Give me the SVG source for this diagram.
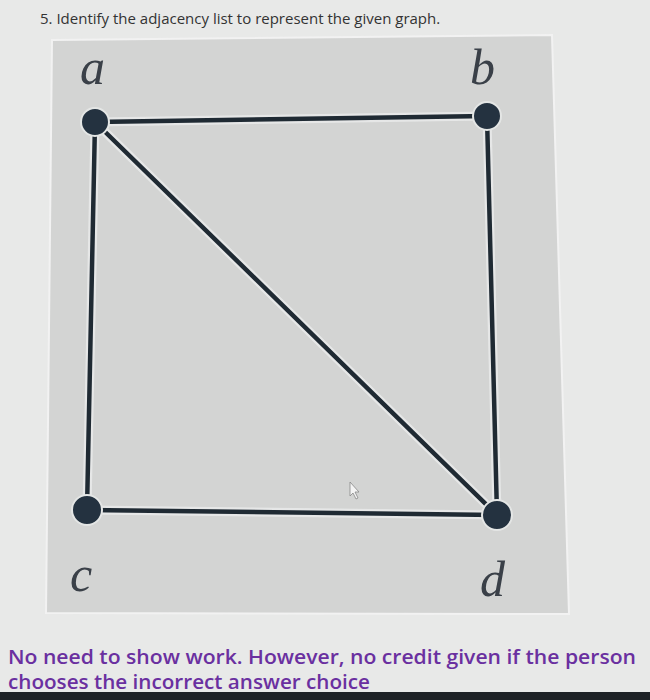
<svg xmlns="http://www.w3.org/2000/svg" width="650" height="700" viewBox="0 0 650 700">
<style>
.edge{stroke:#1f2a33;stroke-width:4.5;stroke-linecap:round;fill:none}
.halo{stroke:#eef0ef;stroke-width:9;stroke-linecap:round;fill:none;opacity:0.7}
.node{fill:#243240;stroke:#e4e6e5;stroke-width:2}
.lbl{font-family:"Liberation Serif",serif;font-style:italic;font-size:50px;fill:#3a4048}
.foot{font-family:"Open Sans","Liberation Sans",sans-serif;font-size:20px;font-weight:600;fill:#6a30a0}
</style>
<rect width="650" height="700" fill="#e8e9e8"/>
<polygon points="52,40 552,35 569,614 46,613" fill="#d3d4d3" stroke="#f2f2f2" stroke-width="2"/>
<text x="40" y="24" font-family="Open Sans, Liberation Sans, sans-serif" font-size="15" fill="#333">5. Identify the adjacency list to represent the given graph.</text>
<g id="connectors">
<line class="halo" x1="95" y1="122" x2="487" y2="116"/>
<line class="halo" x1="95" y1="122" x2="87" y2="510"/>
<line class="halo" x1="95" y1="122" x2="497" y2="515"/>
<line class="halo" x1="487" y1="116" x2="497" y2="515"/>
<line class="halo" x1="87" y1="510" x2="497" y2="515"/>
<line class="edge" x1="95" y1="122" x2="487" y2="116"/>
<line class="edge" x1="95" y1="122" x2="87" y2="510"/>
<line class="edge" x1="95" y1="122" x2="497" y2="515"/>
<line class="edge" x1="487" y1="116" x2="497" y2="515"/>
<line class="edge" x1="87" y1="510" x2="497" y2="515"/>
</g>
<g id="node-a"><circle class="node" cx="95" cy="122" r="14"/><text class="lbl" x="80" y="84">a</text></g>
<g id="node-b"><circle class="node" cx="487" cy="116" r="14"/><text class="lbl" x="470" y="84">b</text></g>
<g id="node-c"><circle class="node" cx="87" cy="510" r="15"/><text class="lbl" x="70" y="591">c</text></g>
<g id="node-d"><circle class="node" cx="497" cy="515" r="15"/><text class="lbl" x="480" y="596">d</text></g>
<polygon points="350,482 350,496 353,493 356,499 358,498 355,492 359,492" fill="#f4f4f4" stroke="#888" stroke-width="0.8"/>
<text class="foot" x="8" y="664" textLength="628" lengthAdjust="spacingAndGlyphs">No need to show work. However, no credit given if the person</text>
<text class="foot" x="8" y="689" textLength="362" lengthAdjust="spacingAndGlyphs">chooses the incorrect answer choice</text>
<rect x="0" y="692" width="650" height="8" fill="#1e2226"/>
</svg>
